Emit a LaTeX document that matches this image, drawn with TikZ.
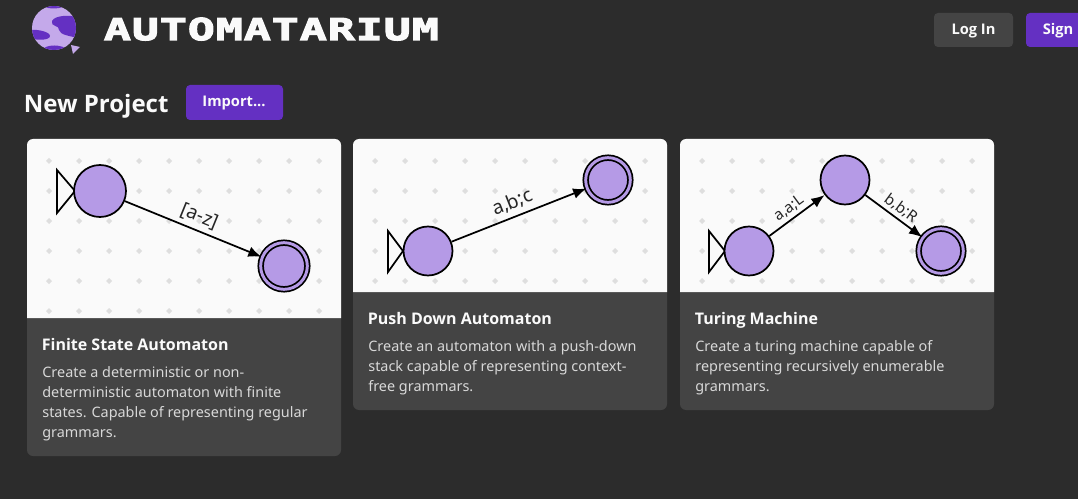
\documentclass[tikz,border=0pt]{standalone}
\usepackage{fontspec}
\usepackage{tikz}
\usetikzlibrary{arrows.meta}
\setmainfont{Noto Sans}
\newfontfamily\headfont{Open Sans}
\newfontfamily\logofont[FakeStretch=1.5,FakeBold=4,LetterSpace=3]{DejaVu Sans Mono Bold}

\definecolor{page}{HTML}{2C2C2C}
\definecolor{panel}{HTML}{444444}
\definecolor{paper}{HTML}{FAFAFA}
\definecolor{accent}{HTML}{6430C2}
\definecolor{statefill}{HTML}{B59AE6}
\definecolor{logolight}{HTML}{C4A9EA}
\definecolor{griddot}{HTML}{DEDEDE}
\definecolor{bodytext}{HTML}{D8D8D8}

\begin{document}
\begin{tikzpicture}[x=.75pt,y=-.75pt,->,>={Latex[length=10pt,width=8pt]},
    line width=1.3pt,
    state node/.style={circle,draw=black,fill=statefill,inner sep=0pt,minimum size=36.75pt},
    big node/.style={state node,minimum size=39pt},
    final node/.style={circle,draw=black,fill=statefill,inner sep=0pt,double=statefill,double distance=2.2pt,line width=1.3pt,minimum size=33.5pt},
    big final node/.style={final node,minimum size=35pt},
    start arrow/.style={-,draw=black,line join=miter,line width=1.3pt},
    edge label/.style={sloped,above,font=\fontsize{14.5pt}{17pt}\selectfont,text=black!85,inner sep=3.5pt},
    small label/.style={edge label,inner sep=2.5pt,font=\fontsize{11.5pt}{14pt}\selectfont},
    card title/.style={anchor=base west,inner sep=0pt,text=paper,font=\fontsize{12pt}{15pt}\headfont\bfseries},
    card text/.style={anchor=base west,inner sep=0pt,text=bodytext,align=left,font=\fontsize{10.8pt}{15pt}\selectfont},
    button label/.style={inner sep=0pt,text=paper,font=\fontsize{11pt}{13pt}\headfont\bfseries}]

\useasboundingbox (0,0) rectangle (1078,499);
\fill[page] (0,0) rectangle (1078,499);

% header
\fill[logolight] (54,28) circle (16.5pt);
\begin{scope}[-]
\clip (54,28) circle (16.5pt);
\fill[accent] (52,21) .. controls (55,15) and (70,15) .. (78,17) -- (78,38) .. controls (70,36) and (60,35) .. (59,30) .. controls (60,25) and (50,27) .. (52,21) -- cycle;
\fill[accent] (30,30) .. controls (38,29) and (50,32) .. (50,36) .. controls (50,40) and (38,41) .. (30,38) -- cycle;
\fill[accent] (42,50) .. controls (46,44) and (62,44) .. (68,50) -- (54,56) -- cycle;
\fill[accent] (45,7) .. controls (49,9) and (58,9) .. (63,7) -- (54,4) -- cycle;
\end{scope}
\fill[logolight] (71,45) -- (80,47) -- (73,54) -- cycle;
\node[anchor=base west,inner sep=0pt,text=paper,font=\fontsize{22.5pt}{26pt}\logofont] (logo) at (103,40) {AUTOMATARIUM};

\fill[panel,rounded corners=3pt] (934,13) rectangle (1013,47);
\node[button label] (login) at (973.5,31) {Log In};
\fill[accent,rounded corners=3pt] (1026,13) rectangle (1090,47);
\node[button label] (signup) at (1058,31) {Sign};

\node[anchor=base west,inner sep=0pt,text=paper,font=\fontsize{18pt}{22pt}\headfont\bfseries] (heading) at (23,113) {New Project};
\fill[accent,rounded corners=3pt] (186,85) rectangle (283,120);
\node[button label] (import) at (234,103.5) {Import...};

% cards
\fill[panel,rounded corners=4.5pt] (27,139) rectangle (341,456);
\fill[panel,rounded corners=4.5pt] (353,139) rectangle (667,410);
\fill[panel,rounded corners=4.5pt] (680,139) rectangle (994,410);
\fill[paper] (27,318) [rounded corners=4.5pt] -- (27,139) -- (341,139) [sharp corners] -- (341,318) -- cycle;
\fill[paper] (353,292) [rounded corners=4.5pt] -- (353,139) -- (667,139) [sharp corners] -- (667,292) -- cycle;
\fill[paper] (680,292) [rounded corners=4.5pt] -- (680,139) -- (994,139) [sharp corners] -- (994,292) -- cycle;

% grid dots
\foreach \x in {49,79,...,319}
  \foreach \y in {161,191,...,311}
    \fill[griddot] (\x-3,\y) -- (\x,\y-3) -- (\x+3,\y) -- (\x,\y+3) -- cycle;
\foreach \s in {375,702}
  \foreach \i in {0,...,9}
    \foreach \y in {161,191,...,281}
      \fill[griddot] (\s+30*\i-3,\y) -- (\s+30*\i,\y-3) -- (\s+30*\i+3,\y) -- (\s+30*\i,\y+3) -- cycle;

% finite state automaton
\draw[start arrow] (57,170) -- (75,191) -- (57,213) -- cycle;
\node[big node] (A) at (100,191) {};
\node[big final node] (B) at (284,266) {};
\path (A) edge node[edge label,pos=.51] {[a-z]} (B);
\node[card title] (fsatitle) at (41,350) {Finite State Automaton};
\node[card text] (fsatext) at (41.5,437) {Create a deterministic or non-\\deterministic automaton with finite\\states. Capable of representing regular\\grammars.};

% push down automaton
\draw[start arrow] (388,231) -- (403,251) -- (388,272) -- cycle;
\node[state node] (C) at (428,251) {};
\node[final node] (D) at (608,180) {};
\path (C) edge node[edge label,pos=.49] {a,b;c} (D);
\node[card title] (pdatitle) at (367,324) {Push Down Automaton};
\node[card text] (pdatext) at (367.5,391) {Create an automaton with a push-down\\stack capable of representing context-\\free grammars.};

% turing machine
\draw[start arrow] (709,231) -- (725,251) -- (709,272) -- cycle;
\node[state node] (E) at (749,251) {};
\node[state node] (F) at (845,180) {};
\node[final node] (G) at (941,251) {};
\path
(E) edge node[small label,pos=.47] {a,a;L} (F)
(F) edge node[small label,pos=.52] {b,b;R} (G);
\node[card title] (tmtitle) at (694,324) {Turing Machine};
\node[card text] (tmtext) at (694.5,391) {Create a turing machine capable of\\representing recursively enumerable\\grammars.};

\end{tikzpicture}
\end{document}
